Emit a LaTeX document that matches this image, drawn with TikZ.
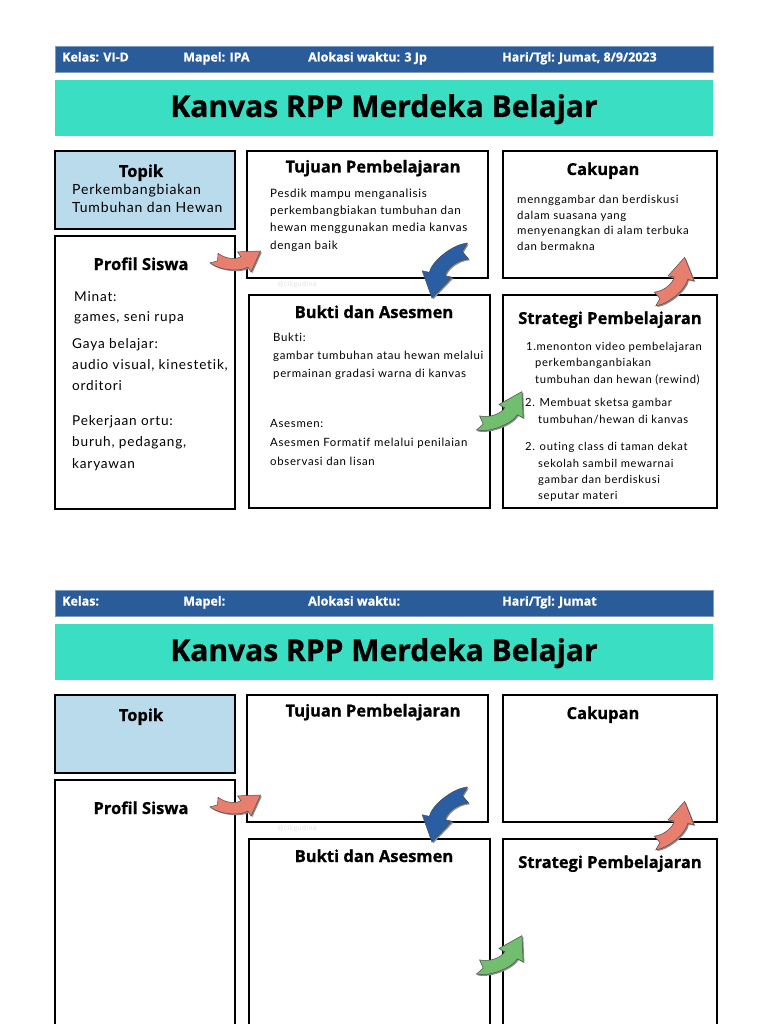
\documentclass[tikz,border=0pt]{standalone}
\usepackage{fontspec}
\setmainfont{Lato}[LetterSpace=6, Ligatures=NoCommon]
\newfontfamily\osans{Open Sans}[BoldFeatures={FakeBold=0.8}]
\definecolor{barblue}{RGB}{41,92,153}
\definecolor{titleteal}{RGB}{58,223,195}
\definecolor{topikblue}{RGB}{186,219,236}
\definecolor{arsalmon}{RGB}{232,126,110}
\definecolor{arblue}{RGB}{42,94,162}
\definecolor{argreen}{RGB}{112,190,110}
\tikzset{
  pics/curvarrow/.style={code={
    \filldraw[fill=#1, draw=black!70, line width=0.5pt,
      preaction={fill=black!45, transform canvas={xshift=1.3pt, yshift=-1.3pt}}]
      (3.3,-4.4) -- (3.2,2.4) -- (-3.3,4.4)
      .. controls (4.7,10.4) and (23.4,11.2) .. (29.8,6.4)
      -- (32.8,10.4) -- (40.1,-8.2) -- (20.2,-6.4) -- (23.2,-2.4)
      .. controls (19.2,0.6) and (9.7,0.4) .. (3.3,-4.4) -- cycle;
  }}
}

\begin{document}
\begin{tikzpicture}[x=1pt, y=-1pt,
    panel/.style={draw, line width=2.6pt, fill=#1, inner sep=0pt},
    panel/.default=white,
    hdr/.style={anchor=base west, text=white, inner sep=0pt,
                font=\osans\bfseries\fontsize{12.5}{14}\selectfont},
    paneltitle/.style={anchor=base, inner sep=0pt,
                font=\osans\bfseries\fontsize{16.5}{19}\selectfont},
    body/.style 2 args={anchor=north west, align=left, inner sep=0pt,
                font=\fontsize{#1}{#2}\selectfont}]

  \useasboundingbox (0,0) rectangle (768,1024);
  \clip (0,0) rectangle (768,1024);

  %% Two copies of the canvas frame
  \foreach \oy/\h in {0/a,544/b}{
    \begin{scope}[shift={(0,\oy)}]
      \node[fill=barblue, draw=barblue!60!white, line width=0.8pt,
            minimum width=658, minimum height=26, inner sep=0pt] (bar\h) at (384,59) {};
      \node[fill=titleteal, minimum width=658, minimum height=56, inner sep=0pt] (ttl\h) at (384,108) {};
      \node[anchor=base, font=\osans\bfseries\fontsize{30}{36}\selectfont] (ttltxt\h) at (384,117)
        {Kanvas RPP Merdeka Belajar};

      %% Panels
      \node[panel=topikblue, minimum width=180, minimum height=78] (topik\h) at (145,190) {};
      \node[panel, minimum width=180, minimum height=273] (profil\h) at (145,372.5) {};
      \node[panel, minimum width=241, minimum height=127] (tujuan\h) at (367.5,214.5) {};
      \node[panel, minimum width=241, minimum height=213] (bukti\h) at (369.5,401.5) {};
      \node[panel, minimum width=214, minimum height=127] (cakupan\h) at (610,214.5) {};
      \node[panel, minimum width=214, minimum height=213] (strategi\h) at (610,401.5) {};

      \node[paneltitle] (topikT\h) at (141,177) {Topik};
      \node[paneltitle] (profilT\h) at (141,270) {Profil Siswa};
      \node[paneltitle] (tujuanT\h) at (373,172.5) {Tujuan Pembelajaran};
      \node[paneltitle] (buktiT\h) at (374,318) {Bukti dan Asesmen};
      \node[paneltitle] (cakupanT\h) at (603,175) {Cakupan};
      \node[paneltitle] (strategiT\h) at (610,324) {Strategi Pembelajaran};

      \node[text=black!12, font=\fontsize{7}{8}\selectfont] (wm\h) at (297,285) {@cikgudina};

      %% Curved arrows
      \pic[rotate=-3, scale=1.15] (ar1\h) at (214,258) {curvarrow=arsalmon};
      \pic[rotate=-139, scale=1.45] (ar2\h) at (468,251) {curvarrow=arblue};
      \pic[rotate=43, scale=1.25] (ar3\h) at (655,299) {curvarrow=arsalmon};
      \pic[rotate=24, scale=1.32] (ar4\h) at (478,423) {curvarrow=argreen};
    \end{scope}
  }

  %% Header texts
  \node[hdr] (kelasa) at (62,61.5) {Kelas: VI-D};
  \node[hdr] (mapela) at (183,61.5) {Mapel: IPA};
  \node[hdr] (aloka) at (308,61.5) {Alokasi waktu: 3 Jp};
  \node[hdr] (haria) at (502,61.5) {Hari/Tgl: Jumat, 8/9/2023};
  \node[hdr] (kelasb) at (62,605.5) {Kelas:};
  \node[hdr] (mapelb) at (183,605.5) {Mapel:};
  \node[hdr] (alokb) at (308,605.5) {Alokasi waktu:};
  \node[hdr] (harib) at (502,605.5) {Hari/Tgl: Jumat};

  %% Filled-in contents (first canvas)
  \node[body={14}{18}] (topikx) at (72,184) {Perkembangbiakan\\Tumbuhan dan Hewan};
  \node[body={13.6}{20}] (minat) at (74,291) {Minat:\\games, seni rupa};
  \node[body={13.6}{21}] (gaya) at (72,338) {Gaya belajar:\\audio visual, kinestetik,\\orditori};
  \node[body={13.6}{21.5}] (ortu) at (72,415) {Pekerjaan ortu:\\buruh, pedagang,\\karyawan};
  \node[body={11.6}{17.3}] (tujuanx) at (270,188.5)
    {Pesdik mampu menganalisis\\perkembangbiakan tumbuhan dan\\hewan menggunakan media kanvas\\dengan baik};
  \node[body={11.4}{18}] (buktix) at (273,332.5)
    {Bukti:\\gambar tumbuhan atau hewan melalui\\permainan gradasi warna di kanvas};
  \node[body={11.4}{19}] (asesx) at (270,419.5)
    {Asesmen:\\Asesmen Formatif melalui penilaian\\observasi dan lisan};
  \node[body={11.4}{15.7}] (cakupanx) at (517,195)
    {mennggambar dan berdiskusi\\dalam suasana yang\\menyenangkan di alam terbuka\\dan bermakna};
  \node[body={11.2}{16.5}] (strat1) at (526,342)
    {1.menonton video pembelajaran\\\hspace*{9pt}perkembanganbiakan\\\hspace*{9pt}tumbuhan dan hewan (rewind)};
  \node[body={11.2}{17}] (strat2) at (525,398.5)
    {2. Membuat sketsa gambar\\\hspace*{13pt}tumbuhan/hewan di kanvas};
  \node[body={11.2}{16.3}] (strat3) at (525,442.5)
    {2. outing class di taman dekat\\\hspace*{13pt}sekolah sambil mewarnai\\\hspace*{13pt}gambar dan berdiskusi\\\hspace*{13pt}seputar materi};
\end{tikzpicture}
\end{document}
